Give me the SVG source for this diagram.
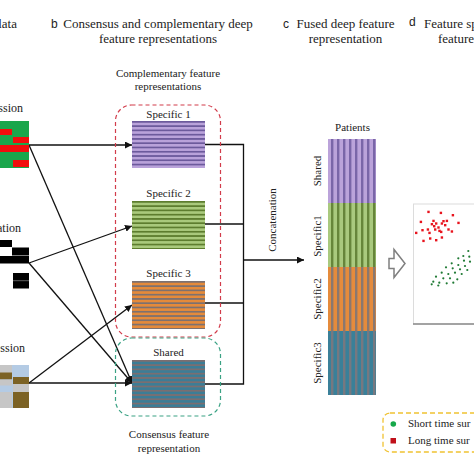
<svg xmlns="http://www.w3.org/2000/svg" width="474" height="474" viewBox="0 0 474 474">
<style>
.t{font-family:"Liberation Serif","Times New Roman",serif;fill:#222}
.ts{font-family:"Liberation Sans",Arial,sans-serif;fill:#222}
.ln{stroke:#111;stroke-width:1.3;fill:none}
</style>
<defs>
<marker id="ah" viewBox="0 0 10 10" refX="10" refY="5" markerWidth="7" markerHeight="7" markerUnits="userSpaceOnUse" orient="auto"><path d="M0,0L10,5L0,10z" fill="#111"/></marker>
<pattern id="pS1" patternUnits="userSpaceOnUse" width="10" height="4.27" y="121"><rect width="10" height="4.27" fill="#b9a2da"/><rect width="10" height="1.7" fill="#6c5a9c"/></pattern>
<pattern id="pS2" patternUnits="userSpaceOnUse" width="10" height="4.27" y="201"><rect width="10" height="4.27" fill="#a9c97c"/><rect width="10" height="1.7" fill="#5d7d2e"/></pattern>
<pattern id="pS3" patternUnits="userSpaceOnUse" width="10" height="4.27" y="281"><rect width="10" height="4.27" fill="#e58a3a"/><rect width="10" height="1.7" fill="#7d7170"/></pattern>
<pattern id="pSh" patternUnits="userSpaceOnUse" width="10" height="4.27" y="360"><rect width="10" height="4.27" fill="#3c7d96"/><rect width="10" height="1.7" fill="#7b6e70"/></pattern>
<pattern id="vSh" patternUnits="userSpaceOnUse" width="6" height="10" x="328"><rect width="6" height="10" fill="#bba3da"/><rect x="3" width="2.4" height="10" fill="#7a66a8"/></pattern>
<pattern id="vS1" patternUnits="userSpaceOnUse" width="6" height="10" x="328"><rect width="6" height="10" fill="#a9c97e"/><rect x="3" width="2.4" height="10" fill="#66853a"/></pattern>
<pattern id="vS2" patternUnits="userSpaceOnUse" width="6" height="10" x="328"><rect width="6" height="10" fill="#e58b3c"/><rect x="3" width="2.4" height="10" fill="#8a7870"/></pattern>
<pattern id="vS3" patternUnits="userSpaceOnUse" width="6" height="10" x="328"><rect width="6" height="10" fill="#3a8099"/><rect x="3" width="2.4" height="10" fill="#777880"/></pattern>
</defs>
<rect width="474" height="474" fill="#fff"/>

<g id="titles">
<text class="t" x="17" y="28" font-size="13" text-anchor="end">lata</text>
<text class="ts" x="51" y="28" font-size="12">b</text>
<text class="t" x="158" y="28" font-size="13" text-anchor="middle">Consensus and complementary deep</text>
<text class="t" x="158" y="43" font-size="13" text-anchor="middle">feature representations</text>
<text class="ts" x="283" y="28" font-size="12">c</text>
<text class="t" x="345.5" y="28" font-size="13" text-anchor="middle">Fused deep feature</text>
<text class="t" x="345.5" y="43" font-size="13" text-anchor="middle">representation</text>
<text class="ts" x="409" y="26" font-size="12">d</text>
<text class="t" x="424" y="28" font-size="13">Feature sp</text>
<text class="t" x="438" y="43" font-size="13">feature</text>
</g>

<g id="connectors">
<line class="ln" x1="29" y1="145" x2="132" y2="145" marker-end="url(#ah)"/>
<line class="ln" x1="29" y1="145" x2="132" y2="383" marker-end="url(#ah)"/>
<line class="ln" x1="29" y1="263" x2="132" y2="226" marker-end="url(#ah)"/>
<line class="ln" x1="29" y1="263" x2="132" y2="383" marker-end="url(#ah)"/>
<line class="ln" x1="29" y1="383" x2="132" y2="305" marker-end="url(#ah)"/>
<line class="ln" x1="29" y1="383" x2="132" y2="383" marker-end="url(#ah)"/>
<polyline class="ln" points="205,144.5 243.5,144.5 243.5,384 205,384"/>
<line class="ln" x1="205" y1="224" x2="243.5" y2="224"/>
<line class="ln" x1="205" y1="303" x2="243.5" y2="303"/>
<line class="ln" x1="243.5" y1="260" x2="304" y2="260" marker-end="url(#ah)"/>
<text class="t" x="276" y="220" font-size="11" text-anchor="middle" transform="rotate(-90 276 220)">Concatenation</text>
</g>

<g id="gene-expression">
<text class="t" x="23" y="112" font-size="12" text-anchor="end">ssion</text>
<rect x="0" y="121" width="29" height="47" fill="#1aa64c"/>
<rect x="0" y="129" width="12" height="6" fill="#f20d0d"/>
<rect x="13" y="137" width="16" height="6" fill="#f20d0d"/>
<rect x="0" y="145" width="29" height="7" fill="#f20d0d"/>
<rect x="13" y="160" width="16" height="7" fill="#f20d0d"/>
</g>

<g id="methylation">
<text class="t" x="21" y="232" font-size="12" text-anchor="end">ation</text>
<rect x="0" y="240" width="12" height="7" fill="#000"/>
<rect x="12" y="247.5" width="17" height="8" fill="#000"/>
<rect x="0" y="256" width="29" height="7.5" fill="#000"/>
<rect x="13" y="273" width="16" height="15.5" fill="#000"/>
<line x1="13" y1="280.7" x2="29" y2="280.7" stroke="#777" stroke-width="0.8"/>
</g>

<g id="third-omics">
<text class="t" x="25" y="352" font-size="12" text-anchor="end">ession</text>
<rect x="0" y="365" width="29" height="43" fill="#b4cbe4"/>
<rect x="0" y="365" width="12" height="8" fill="#c6c6c6"/>
<rect x="0" y="372.5" width="12" height="7" fill="#7c6224"/>
<rect x="0" y="379.5" width="12" height="6" fill="#c6c6c6"/>
<rect x="13" y="377" width="16" height="7" fill="#7c6224"/>
<rect x="13" y="384" width="16" height="8" fill="#c6c6c6"/>
<rect x="0" y="392" width="12" height="16" fill="#c6c6c6"/>
<rect x="13" y="392" width="16" height="16" fill="#7c6224"/>
</g>

<g id="complementary">
<text class="t" x="168" y="77" font-size="11" text-anchor="middle">Complementary feature</text>
<text class="t" x="168" y="90" font-size="11" text-anchor="middle">representations</text>
<rect x="115.5" y="105" width="105" height="232" rx="16" fill="none" stroke="#d23c4b" stroke-width="1.2" stroke-dasharray="4,3"/>
</g>
<g id="specific1">
<text class="t" x="168.5" y="118" font-size="11" text-anchor="middle">Specific 1</text>
<rect x="132" y="121" width="73" height="47" fill="url(#pS1)"/>
</g>
<g id="specific2">
<text class="t" x="168.5" y="197" font-size="11" text-anchor="middle">Specific 2</text>
<rect x="132" y="201" width="73" height="48" fill="url(#pS2)"/>
</g>
<g id="specific3">
<text class="t" x="168.5" y="277" font-size="11" text-anchor="middle">Specific 3</text>
<rect x="132" y="281" width="73" height="48" fill="url(#pS3)"/>
</g>
<g id="consensus">
<rect x="115.5" y="338" width="105" height="78" rx="16" fill="none" stroke="#3aa284" stroke-width="1.2" stroke-dasharray="4,3"/>
<text class="t" x="168.5" y="356" font-size="11" text-anchor="middle">Shared</text>
<rect x="132" y="360" width="73" height="48" fill="url(#pSh)"/>
<text class="t" x="169" y="438" font-size="11" text-anchor="middle">Consensus feature</text>
<text class="t" x="169" y="452" font-size="11" text-anchor="middle">representation</text>
</g>

<g id="fused">
<text class="t" x="352.5" y="131" font-size="11" text-anchor="middle">Patients</text>
<rect x="328" y="139" width="48" height="64" fill="url(#vSh)"/>
<rect x="328" y="203" width="48" height="64" fill="url(#vS1)"/>
<rect x="328" y="267" width="48" height="64" fill="url(#vS2)"/>
<rect x="328" y="331" width="48" height="64" fill="url(#vS3)"/>
<text class="t" x="321" y="171" font-size="11" text-anchor="middle" transform="rotate(-90 321 171)">Shared</text>
<text class="t" x="321" y="236" font-size="11" text-anchor="middle" transform="rotate(-90 321 236)">Specific1</text>
<text class="t" x="321" y="299" font-size="11" text-anchor="middle" transform="rotate(-90 321 299)">Specific2</text>
<text class="t" x="321" y="363" font-size="11" text-anchor="middle" transform="rotate(-90 321 363)">Specific3</text>
</g>

<g id="hollow-arrow">
<polygon points="389,258.5 394,258.5 394,249.5 405,263.5 394,277.5 394,268.5 389,268.5" fill="#fff" stroke="#7f7f7f" stroke-width="1.5"/>
</g>

<g id="scatter">
<rect x="413.5" y="204" width="70" height="120" fill="#fff" stroke="#dcdcdc" stroke-width="1"/>
<line x1="413" y1="324" x2="474" y2="324" stroke="#8a8a8a" stroke-width="1.5"/>
<g fill="#e8141e">
<rect x="427.3" y="210.7" width="2.4" height="2.4"/><rect x="439.7" y="211.7" width="2.4" height="2.4"/><rect x="451.7" y="214" width="2.4" height="2.4"/>
<rect x="419.7" y="220.7" width="2.4" height="2.4"/><rect x="432.3" y="219.7" width="2.4" height="2.4"/><rect x="442.3" y="220" width="2.4" height="2.4"/>
<rect x="445.7" y="219.7" width="2.4" height="2.4"/><rect x="457.3" y="221.7" width="2.4" height="2.4"/><rect x="430.7" y="223" width="2.4" height="2.4"/>
<rect x="435" y="222.3" width="2.4" height="2.4"/><rect x="440.7" y="222.3" width="2.4" height="2.4"/><rect x="415" y="231.7" width="2.4" height="2.4"/>
<rect x="421.3" y="229" width="2.4" height="2.4"/><rect x="426.7" y="228.3" width="2.4" height="2.4"/><rect x="434" y="228.3" width="2.4" height="2.4"/>
<rect x="438.3" y="229.7" width="2.4" height="2.4"/><rect x="440" y="230.7" width="2.4" height="2.4"/><rect x="447.3" y="228.3" width="2.4" height="2.4"/>
<rect x="450.7" y="230.3" width="2.4" height="2.4"/><rect x="428.3" y="231.7" width="2.4" height="2.4"/><rect x="422.3" y="239.7" width="2.4" height="2.4"/>
<rect x="429" y="237.3" width="2.4" height="2.4"/><rect x="435" y="239" width="2.4" height="2.4"/><rect x="440.7" y="236.3" width="2.4" height="2.4"/>
<rect x="437.3" y="226.3" width="2.4" height="2.4"/><rect x="444" y="224" width="2.4" height="2.4"/><rect x="433" y="225" width="2.4" height="2.4"/>
</g>
<g fill="#1f7a34">
<circle cx="468.3" cy="251" r="1.1"/><circle cx="463.3" cy="256" r="1.1"/><circle cx="469.3" cy="256.7" r="1.1"/>
<circle cx="458.3" cy="258.3" r="1.1"/><circle cx="464" cy="260.7" r="1.1"/><circle cx="470" cy="261.7" r="1.1"/>
<circle cx="451.7" cy="263.3" r="1.1"/><circle cx="458.3" cy="265" r="1.1"/><circle cx="465" cy="266" r="1.1"/>
<circle cx="446" cy="267.3" r="1.1"/><circle cx="452.7" cy="268.3" r="1.1"/><circle cx="460" cy="269.3" r="1.1"/>
<circle cx="467.3" cy="270" r="1.1"/><circle cx="441.7" cy="272.7" r="1.1"/><circle cx="448.3" cy="274" r="1.1"/>
<circle cx="455" cy="272.7" r="1.1"/><circle cx="461.7" cy="274" r="1.1"/><circle cx="436" cy="276.7" r="1.1"/>
<circle cx="443.3" cy="278.3" r="1.1"/><circle cx="450" cy="278.3" r="1.1"/><circle cx="457.3" cy="279.3" r="1.1"/>
<circle cx="433.3" cy="281.7" r="1.1"/><circle cx="439.3" cy="282.7" r="1.1"/><circle cx="446.7" cy="283.3" r="1.1"/>
<circle cx="453.3" cy="282.7" r="1.1"/><circle cx="431.7" cy="284.3" r="1.1"/><circle cx="438.3" cy="285.5" r="1.1"/>
</g>
</g>

<g id="legend">
<rect x="383" y="413" width="110" height="39" rx="7" fill="none" stroke="#f0c232" stroke-width="1.3" stroke-dasharray="5,3"/>
<circle cx="393.3" cy="424" r="2.8" fill="#16a84a"/>
<text class="t" x="408" y="427" font-size="11">Short time sur</text>
<rect x="390.5" y="438" width="5.5" height="5.5" fill="#c0101a"/>
<text class="t" x="408" y="443.5" font-size="11">Long time sur</text>
</g>
</svg>
